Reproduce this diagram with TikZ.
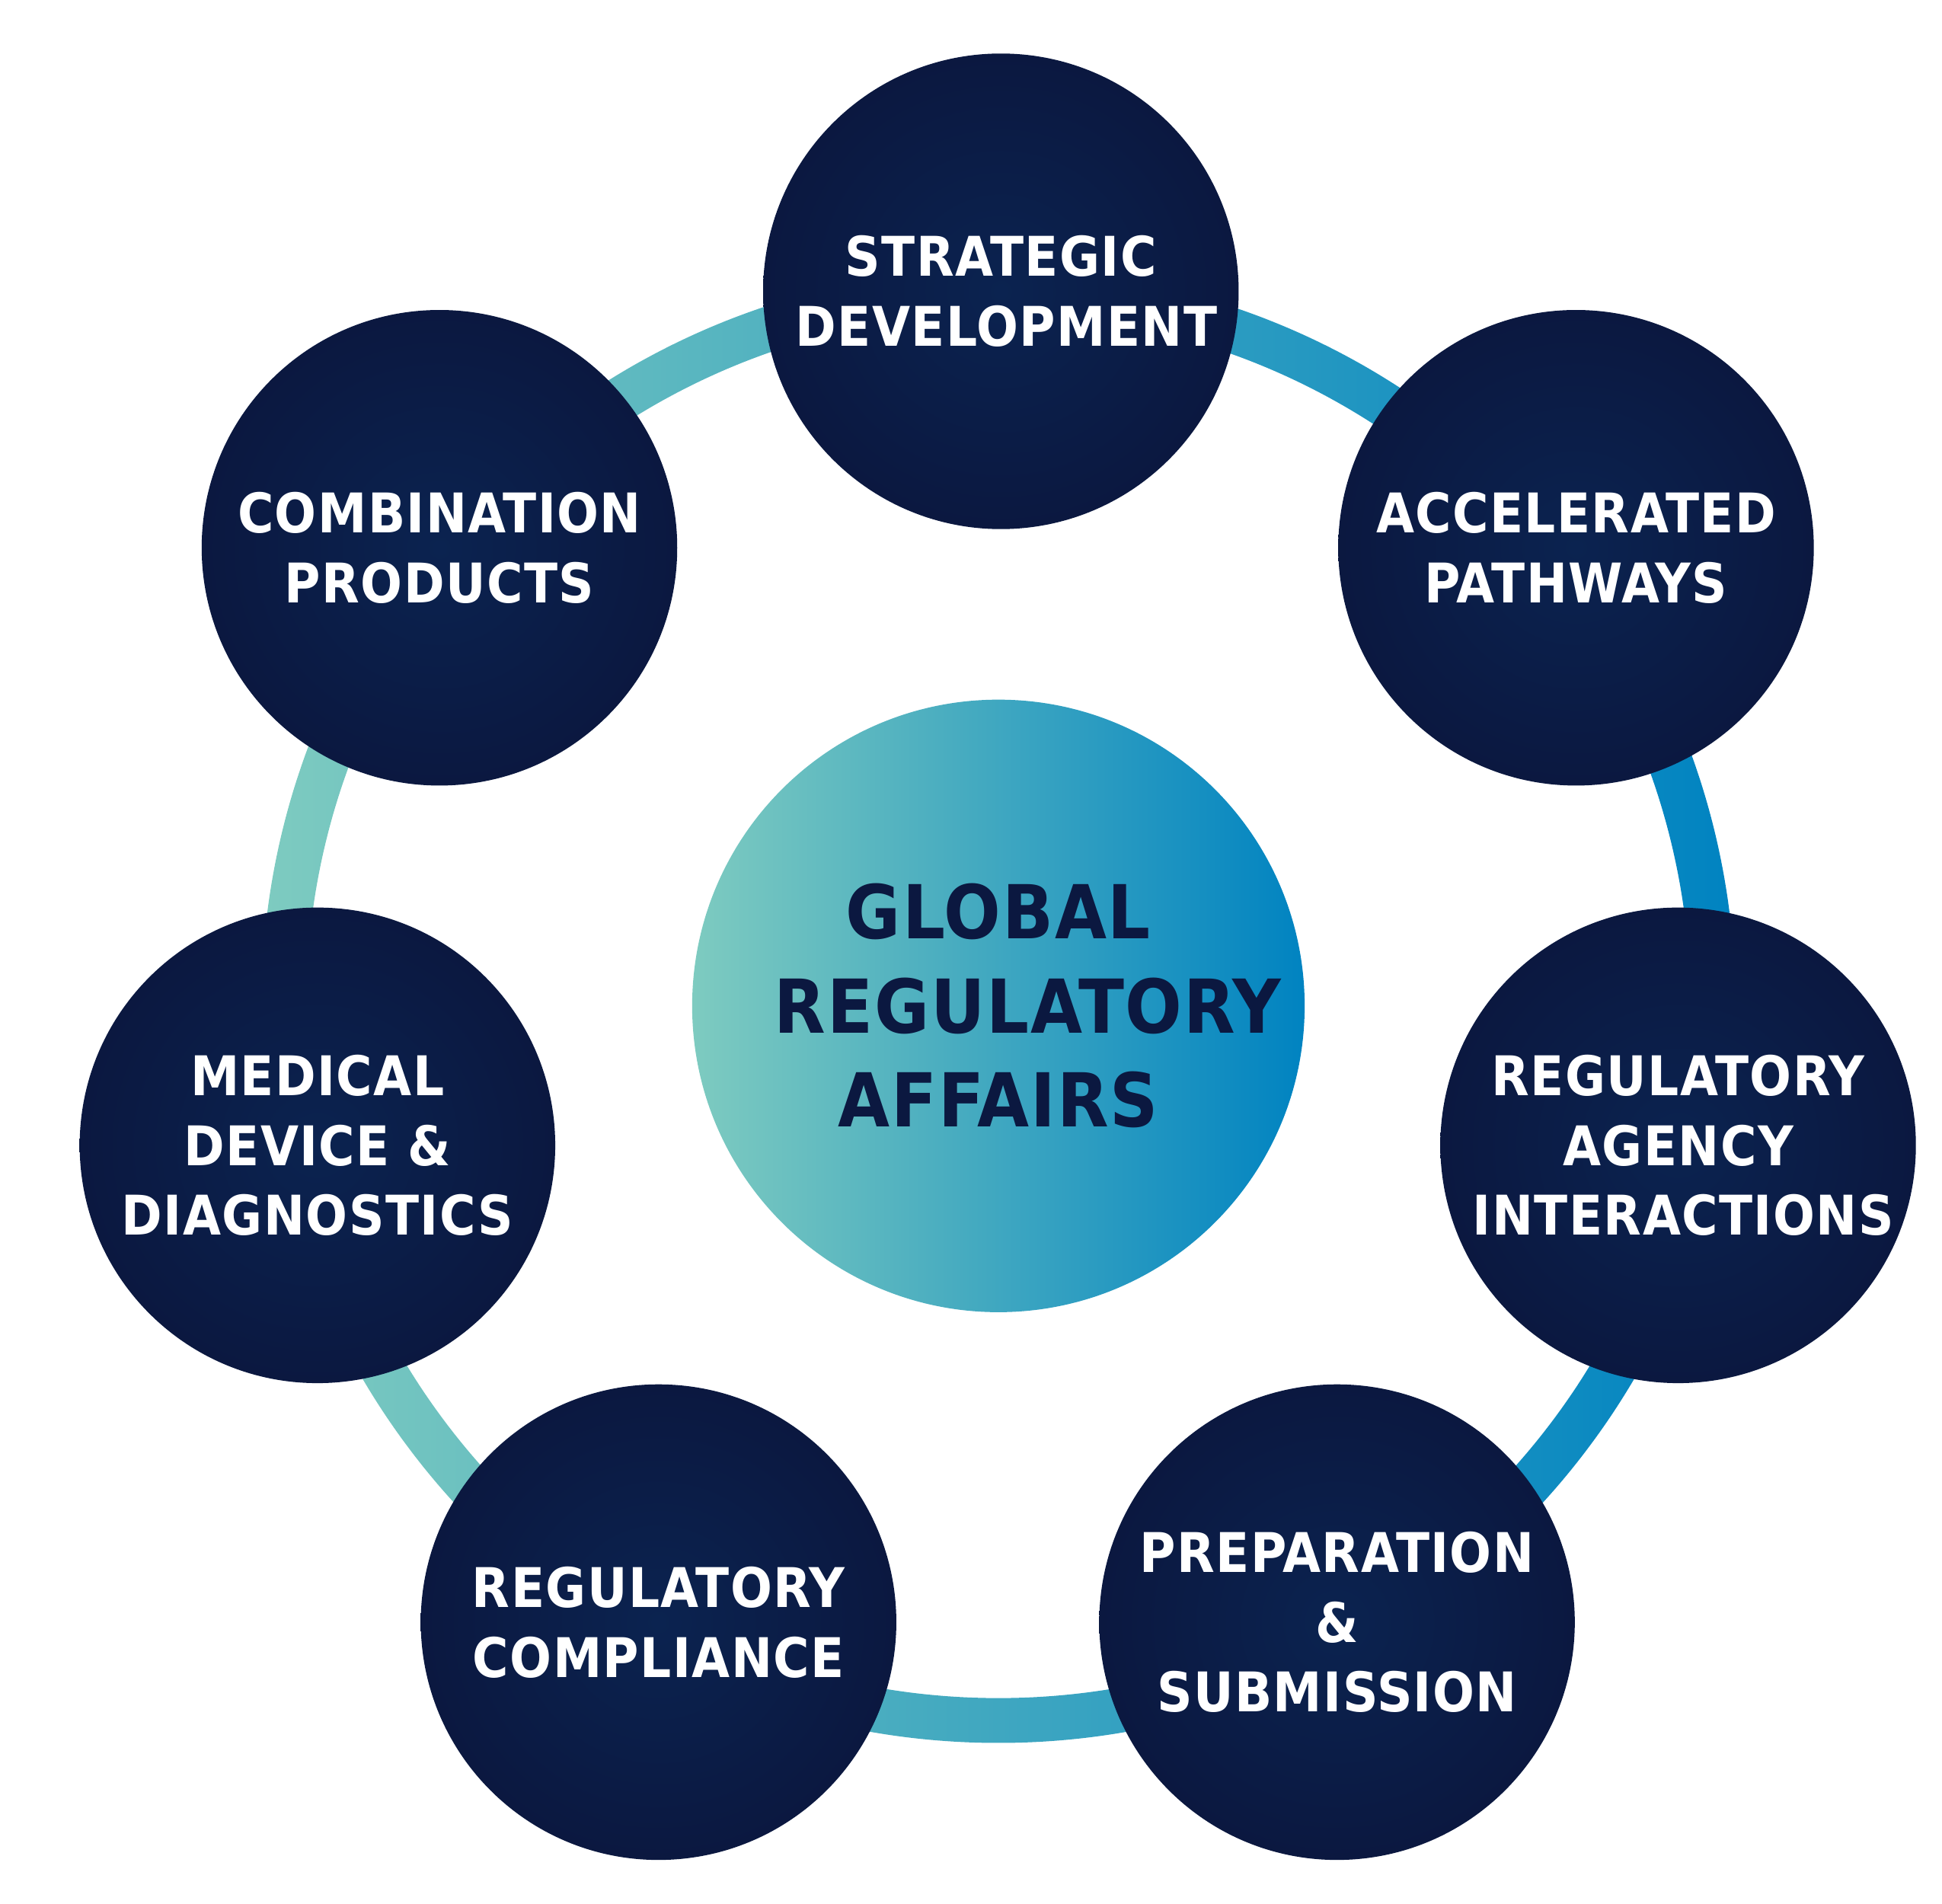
\documentclass[tikz,border=0pt]{standalone}
\usepackage{fontspec}
\setmainfont{DejaVu Sans Condensed}[BoldFont={DejaVu Sans Condensed Bold},LetterSpace=2]
\usepackage{tikz}
\usetikzlibrary{positioning}
\definecolor{ringL}{HTML}{7ECBC0}
\definecolor{ringR}{HTML}{0083C1}
\definecolor{navyIn}{HTML}{0B2350}
\definecolor{navyOut}{HTML}{0B1840}
\tikzset{
  topic/.style={circle, minimum size=3.82cm, inner sep=0pt, text width=3.3cm,
    inner color=navyIn, outer color=navyOut,
    text=white, align=center, font=\bfseries\fontsize{12.5}{16}\selectfont},
  hub/.style={circle, minimum size=4.92cm, inner sep=0pt, text width=3.6cm,
    left color=ringL, right color=ringR,
    text=navyOut, align=center, font=\bfseries\fontsize{17}{21.5}\selectfont}
}
\begin{document}
\begin{tikzpicture}
  \useasboundingbox (0,0) rectangle (15.6,15.29);
  \coordinate (c) at (8.02,7.21);
  % ring
  \path[left color=ringL, right color=ringR, even odd rule]
    (c) circle (5.92) (c) circle (5.56);
  \node[hub] (hub) at (c) {GLOBAL\\REGULATORY\\AFFAIRS};
  \node[topic] (strat) at (8.04,12.95) {STRATEGIC\\DEVELOPMENT};
  \node[topic] (accel) at (12.66,10.89) {ACCELERATED\\PATHWAYS};
  \node[topic] (agency) at (13.48,6.09) {REGULATORY\\AGENCY\\INTERACTIONS};
  \node[topic] (prep) at (10.74,2.26) {PREPARATION \&\\SUBMISSION};
  \node[topic] (compl) at (5.29,2.26) {REGULATORY\\COMPLIANCE};
  \node[topic] (medic) at (2.55,6.09) {MEDICAL DEVICE \&\\DIAGNOSTICS};
  \node[topic] (combo) at (3.53,10.89) {COMBINATION\\PRODUCTS};
\end{tikzpicture}
\end{document}
